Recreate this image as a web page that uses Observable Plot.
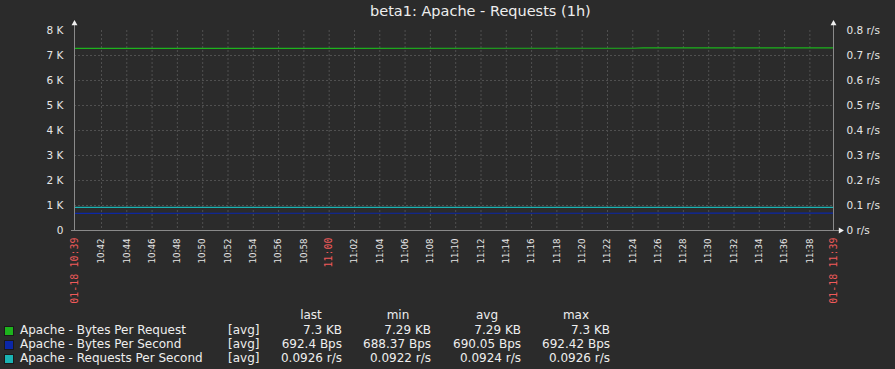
<!DOCTYPE html>
<html>
<head>
<meta charset="utf-8">
<script src="https://cdn.jsdelivr.net/npm/d3@7"></script>
<script src="https://cdn.jsdelivr.net/npm/@observablehq/plot@0.6"></script>
<style>
  html, body { margin: 0; padding: 0; background: #2b2b2b; width: 895px; height: 369px; overflow: hidden; }
  body { position: relative; font-family: "DejaVu Sans", sans-serif; color: #f0f0f0; }
  #chart { position: absolute; left: 0; top: 0; }
  #title { position: absolute; left: 370px; top: 3px; font-size: 14.5px; white-space: nowrap; color: #eeeeee; }
  .lg { position: absolute; font-size: 12px; white-space: nowrap; line-height: 14px; color: #eeeeee; }
  .sw { position: absolute; width: 8px; height: 8px; }
</style>
</head>
<body>
<div id="title">beta1: Apache - Requests (1h)</div>
<div id="chart"></div>
<div id="legend"></div>
<script>
// ---------- data ----------
const titleText = "beta1: Apache - Requests (1h)";
const day = "2024-01-18";
const rangeStart = "10:39:52";
const rangeEnd = "11:39:52";
const tickLabels = ["10:42","10:44","10:46","10:48","10:50","10:52","10:54","10:56","10:58","11:00",
  "11:02","11:04","11:06","11:08","11:10","11:12","11:14","11:16","11:18","11:20","11:22",
  "11:24","11:26","11:28","11:30","11:32","11:34","11:36","11:38"];
const highlightTicks = ["11:00"];
const startLabel = "01-18 10:39";
const endLabel = "01-18 11:39";
const yTicks = [0,1000,2000,3000,4000,5000,6000,7000,8000];
const yTickLabels = ["0","1 K","2 K","3 K","4 K","5 K","6 K","7 K","8 K"];
const rTickLabels = ["0 r/s","0.1 r/s","0.2 r/s","0.3 r/s","0.4 r/s","0.5 r/s","0.6 r/s","0.7 r/s","0.8 r/s"];
const rScale = 10000; // 0.8 r/s on the right axis sits level with 8 K on the left

const seriesTimes = ["10:39:52","11:00:00","11:24:00","11:24:50","11:39:52"];
const bytesPerRequest = [7288, 7289, 7290, 7302, 7302];
const bytesPerSecond = [688.4, 689.6, 690.3, 691.8, 692.4];
const requestsPerSecond = [0.0922, 0.0923, 0.0924, 0.0926, 0.0926];

const seriesNames = ["Apache - Bytes Per Request","Apache - Bytes Per Second","Apache - Requests Per Second"];
const seriesColors = ["#1db31d","#0b27a8","#1ab3b3"];
const legendFunc = ["[avg]","[avg]","[avg]"];
const legendHeaders = ["last","min","avg","max"];
const legendLast = ["7.3 KB","692.4 Bps","0.0926 r/s"];
const legendMin = ["7.29 KB","688.37 Bps","0.0922 r/s"];
const legendAvg = ["7.29 KB","690.05 Bps","0.0924 r/s"];
const legendMax = ["7.3 KB","692.42 Bps","0.0926 r/s"];

// ---------- build ----------
const t = s => new Date(`${day}T${s.length === 5 ? s + ":00" : s}Z`);
const x0 = t(rangeStart), x1 = t(rangeEnd);
const tickDates = tickLabels.map(t);
const rows = [];
seriesTimes.forEach((s, i) => {
  rows.push({time: t(s), value: bytesPerRequest[i], series: seriesNames[0]});
  rows.push({time: t(s), value: bytesPerSecond[i], series: seriesNames[1]});
  rows.push({time: t(s), value: requestsPerSecond[i] * rScale, series: seriesNames[2]});
});
const normalTicks = tickLabels.filter(l => !highlightTicks.includes(l));
const edgeLabels = [{time: x0, label: startLabel}, {time: x1, label: endLabel}];

const grid = "#505050";
const axisC = "#8a8a8a";
const txt = "#e6e6e6";
const red = "#f05a5a";

const chart = Plot.plot({
  width: 895,
  height: 310,
  marginTop: 30,
  marginBottom: 80,
  marginLeft: 74,
  marginRight: 62,
  style: {background: "transparent", fontFamily: "DejaVu Sans", color: txt},
  x: {type: "utc", domain: [x0, x1], axis: null},
  y: {domain: [0, 8000], axis: null},
  color: {domain: seriesNames, range: seriesColors},
  marks: [
    Plot.gridY(yTicks.slice(1, -1), {stroke: grid, strokeOpacity: 1, strokeDasharray: "2,2"}),
    Plot.gridX(tickDates, {stroke: grid, strokeOpacity: 1, strokeDasharray: "2,2"}),
    Plot.line(rows, {x: "time", y: "value", z: "series", stroke: "series", strokeWidth: 1.2}),
    Plot.ruleX([x0, x1], {stroke: axisC, insetTop: -7}),
    Plot.ruleY([0], {stroke: axisC, insetLeft: -3, insetRight: -6}),
    Plot.dot([x0, x1], {x: d => d, y: () => 8000, symbol: "triangle", r: 2.2, fill: "#f0f0f0", stroke: "none", dy: -7}),
    Plot.dot([x1], {x: d => d, y: () => 0, symbol: "triangle", r: 2.2, fill: "#f0f0f0", stroke: "none", dx: 7, rotate: 90}),
    Plot.text(yTicks, {x: () => x0, y: d => d, text: (d, i) => yTickLabels[i], textAnchor: "end", dx: -11, fill: txt, fontSize: 10.5}),
    Plot.text(yTicks, {x: () => x1, y: d => d, text: (d, i) => rTickLabels[i], textAnchor: "start", dx: 13, fill: txt, fontSize: 10.5}),
    Plot.text(normalTicks, {x: d => t(d), y: () => 0, text: d => d, rotate: -90, textAnchor: "end", dy: 8, fill: txt, fontSize: 8.7}),
    Plot.text(highlightTicks, {x: d => t(d), y: () => 0, text: d => d, rotate: -90, textAnchor: "end", dy: 7, fill: red, fontSize: 10, fontFamily: "DejaVu Sans Mono"}),
    Plot.text(edgeLabels, {x: "time", y: () => 0, text: "label", rotate: -90, textAnchor: "end", dy: 7, fill: red, fontSize: 10, fontFamily: "DejaVu Sans Mono"})
  ]
});
document.getElementById("chart").appendChild(chart);

// legend
const lg = document.getElementById("legend");
function addText(txtv, left, top, align) {
  const d = document.createElement("div");
  d.className = "lg";
  d.textContent = txtv;
  d.style.top = top + "px";
  if (align === "right") { d.style.right = (895 - left) + "px"; }
  else if (align === "center") { d.style.left = (left - 40) + "px"; d.style.width = "80px"; d.style.textAlign = "center"; }
  else d.style.left = left + "px";
  lg.appendChild(d);
}
const headerX = [311, 398, 487, 576];
legendHeaders.forEach((h, i) => addText(h, headerX[i], 308, "center"));
const rowY = [323, 337, 351];
const colRight = [342, 431, 521, 610];
seriesNames.forEach((n, i) => {
  const sw = document.createElement("div");
  sw.className = "sw";
  sw.style.left = "4px";
  sw.style.top = (rowY[i] + 3) + "px";
  sw.style.background = seriesColors[i];
  sw.style.border = "1px solid #1a1a1a";
  lg.appendChild(sw);
  addText(n, 20, rowY[i]);
  addText(legendFunc[i], 228, rowY[i]);
  [legendLast, legendMin, legendAvg, legendMax].forEach((col, j) => addText(col[i], colRight[j], rowY[i], "right"));
});
</script>
</body>
</html>
